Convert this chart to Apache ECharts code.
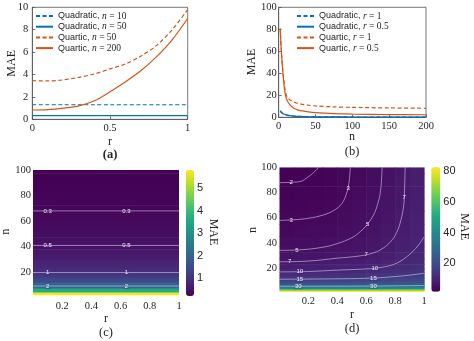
<!DOCTYPE html>
<html>
<head>
<meta charset="utf-8">
<script src="https://cdn.jsdelivr.net/npm/echarts@6/dist/echarts.min.js"></script>
<style>
  html, body { margin: 0; padding: 0; background: #fff; }
  #chart { width: 474px; height: 341px; }
</style>
</head>
<body>
<div id="chart"></div>
<script>
// ---------- (a) MAE versus r ----------
const rA = [0, 0.1, 0.2, 0.3, 0.4, 0.5, 0.6, 0.7, 0.8, 0.9, 1];
const quadN10 = [1.3, 1.3, 1.3, 1.3, 1.3, 1.3, 1.3, 1.3, 1.3, 1.3, 1.3];
const quadN50 = [0.33, 0.33, 0.33, 0.33, 0.33, 0.33, 0.33, 0.33, 0.33, 0.33, 0.33];
const quartN50 = [3.45, 3.43, 3.52, 3.75, 4.05, 4.5, 4.95, 5.65, 6.6, 8.0, 9.8];
const quartN200 = [0.83, 0.87, 1.0, 1.2, 1.65, 2.45, 3.35, 4.35, 5.6, 7.1, 9.0];

// ---------- (b) MAE versus n ----------
const nB = [2, 4, 6, 8, 10, 12, 15, 20, 25, 30, 40, 50, 75, 100, 150, 200];
const quadR1 = [6, 4.5, 3.5, 2.8, 2.3, 2.0, 1.6, 1.2, 1.0, 0.8, 0.6, 0.5, 0.35, 0.3, 0.25, 0.2];
const quadR05 = [5.5, 4.2, 3.2, 2.6, 2.1, 1.8, 1.5, 1.1, 0.9, 0.75, 0.55, 0.45, 0.33, 0.28, 0.22, 0.2];
const quartR1 = [81, 57, 40, 28, 21, 18, 16, 14, 12.8, 12, 11, 10.3, 9.5, 9.0, 8.5, 8.2];
const quartR05 = [80, 55, 38, 25, 18, 14.5, 11.5, 8.5, 7, 6, 5, 4.3, 3.4, 2.9, 2.5, 2.3];

// ---------- (c) quadratic MAE over (r, n): depends on n only ----------
const nC = [3, 6.5, 9, 10, 11, 12, 13, 14, 15, 16, 17, 18, 20, 22, 25, 28, 32, 36, 40, 45, 50, 55, 60, 65, 70, 75, 80, 85, 90, 95, 100];
const maeC = [5.7, 3.6, 2.2, 2.0, 1.8, 1.65, 1.52, 1.42, 1.33, 1.25, 1.17, 1.1, 1.0, 0.91, 0.8, 0.72, 0.63, 0.56, 0.5, 0.45, 0.41, 0.37, 0.34, 0.31, 0.29, 0.27, 0.25, 0.24, 0.23, 0.22, 0.21];
const levelsC = [0.3, 0.5, 1, 2];
const levelNC = [68, 41, 19.8, 9.3];
const tagRC = [0.1, 0.64];
const rangeC = [0.2, 5.8];

// ---------- (d) quartic MAE over (r, n) ----------
const rD = [0.05, 0.15, 0.25, 0.35, 0.45, 0.55, 0.65, 0.75, 0.85, 0.95];
const nD = [2, 3, 4.5, 6, 7.5, 9, 11, 13, 15, 18, 21, 25, 30, 35, 40, 50, 60, 70, 80, 90, 100];
const maeD = [
  [82.0, 82.0, 82.1, 82.1, 82.3, 82.4, 82.6, 82.9, 83.1, 83.5],
  [58.3, 58.3, 58.4, 58.4, 58.6, 58.7, 58.9, 59.2, 59.4, 59.8],
  [38.9, 38.9, 39.0, 39.1, 39.2, 39.4, 39.6, 39.8, 40.2, 40.5],
  [29.2, 29.2, 29.3, 29.4, 29.6, 29.8, 30.0, 30.3, 30.7, 31.2],
  [23.3, 23.3, 23.4, 23.5, 23.7, 23.9, 24.2, 24.6, 25.0, 25.5],
  [19.4, 19.4, 19.5, 19.7, 19.9, 20.1, 20.5, 20.9, 21.4, 22.0],
  [15.9, 15.9, 16.0, 16.2, 16.4, 16.7, 17.0, 17.5, 18.1, 18.7],
  [13.5, 13.5, 13.6, 13.8, 14.0, 14.3, 14.7, 15.2, 15.8, 16.4],
  [11.7, 11.7, 11.8, 12.0, 12.3, 12.6, 13.1, 13.6, 14.3, 15.0],
  [9.7, 9.7, 9.9, 10.0, 10.3, 10.7, 11.1, 11.7, 12.4, 13.2],
  [8.3, 8.4, 8.5, 8.7, 9.0, 9.3, 9.8, 10.4, 11.2, 12.0],
  [7.0, 7.1, 7.2, 7.4, 7.7, 8.1, 8.7, 9.3, 10.1, 11.0],
  [5.8, 5.9, 6.0, 6.2, 6.6, 7.0, 7.6, 8.4, 9.2, 10.2],
  [5.0, 5.1, 5.2, 5.5, 5.8, 6.3, 7.0, 7.8, 8.7, 9.7],
  [4.4, 4.5, 4.6, 4.9, 5.3, 5.8, 6.5, 7.4, 8.4, 9.5],
  [3.5, 3.6, 3.8, 4.1, 4.5, 5.1, 5.8, 6.8, 7.9, 9.1],
  [2.9, 3.0, 3.2, 3.5, 3.9, 4.5, 5.3, 6.3, 7.5, 8.7],
  [2.5, 2.6, 2.8, 3.1, 3.6, 4.2, 5.0, 6.0, 7.2, 8.5],
  [2.2, 2.3, 2.5, 2.8, 3.3, 3.9, 4.7, 5.7, 6.9, 8.3],
  [1.9, 2.0, 2.2, 2.5, 3.0, 3.6, 4.4, 5.5, 6.7, 8.0],
  [1.8, 1.8, 2.0, 2.4, 2.9, 3.5, 4.3, 5.4, 6.6, 8.0]
];
const rangeD = [1.6, 82.4];
// contour paths as [r, n] pairs
const contoursD = {
  2: [[0, 87.8], [0.14, 88.6], [0.2, 92.5], [0.25, 97.3], [0.27, 100]],
  3: [[0, 57.8], [0.1, 58.3], [0.2, 59.5], [0.3, 62], [0.38, 66], [0.43, 71], [0.46, 78], [0.48, 87], [0.49, 100]],
  5: [[0, 34], [0.15, 34.5], [0.3, 36.5], [0.4, 39.4], [0.5, 44], [0.56, 49], [0.61, 55], [0.65, 62], [0.68, 71], [0.7, 82], [0.71, 100]],
  7: [[0, 24.9], [0.2, 25.5], [0.4, 27.8], [0.55, 29.5], [0.65, 32], [0.72, 36], [0.77, 41], [0.81, 48], [0.84, 58], [0.86, 70], [0.865, 82], [0.87, 100]],
  10: [[0, 16.9], [0.2, 17.2], [0.4, 18.3], [0.55, 19], [0.66, 19.8], [0.75, 21.5], [0.81, 23.8], [0.87, 28], [0.93, 34], [0.97, 39.5], [1, 44.7]],
  15: [[0, 11.1], [0.4, 11.4], [0.65, 12], [0.8, 13.2], [0.9, 14.3], [1, 15.8]],
  30: [[0, 5.5], [0.5, 5.6], [0.8, 5.8], [1, 6.1]]
};
// contour label anchors [r, n, level]
const tagsD = [
  [0.08, 87.9, 2],
  [0.08, 58.1, 3], [0.475, 83, 3],
  [0.12, 34.3, 5], [0.61, 55, 5],
  [0.07, 25, 7], [0.6, 30.5, 7], [0.862, 76, 7],
  [0.14, 17, 10], [0.66, 19.8, 10],
  [0.14, 11.1, 15], [0.65, 12, 15],
  [0.13, 5.5, 30], [0.65, 5.7, 30]
];

// ---------- helpers ----------
const viridis = ['#440154', '#482475', '#414487', '#355f8d', '#2a788e', '#21918c',
                 '#22a884', '#44bf70', '#7ad151', '#bddf26', '#fde725'];
function hexRgb(h) { return [1, 3, 5].map(i => parseInt(h.slice(i, i + 2), 16)); }
function viridisAt(t) {
  t = Math.max(0, Math.min(1, t)) * (viridis.length - 1);
  const i = Math.min(Math.floor(t), viridis.length - 2), f = t - i;
  const a = hexRgb(viridis[i]), b = hexRgb(viridis[i + 1]);
  return 'rgb(' + a.map((v, k) => Math.round(v + (b[k] - v) * f)).join(',') + ')';
}
function spans(arr, lo, hi) {
  return arr.map((v, i) => [i === 0 ? lo : (arr[i - 1] + v) / 2,
                            i === arr.length - 1 ? hi : (v + arr[i + 1]) / 2]);
}
function cells(rs, rLo, rHi, ns, nLo, nHi, valueAt) {
  const rs2 = spans(rs, rLo, rHi), ns2 = spans(ns, nLo, nHi), out = [];
  ns2.forEach((ny, j) => rs2.forEach((rx, i) => out.push([rx[0], rx[1], ny[0], ny[1], valueAt(j, i)])));
  return out;
}
function renderCell(params, api) {
  const p0 = api.coord([api.value(0), api.value(2)]);
  const p1 = api.coord([api.value(1), api.value(3)]);
  return {
    type: 'rect',
    shape: { x: Math.min(p0[0], p1[0]), y: Math.min(p0[1], p1[1]),
             width: Math.abs(p1[0] - p0[0]) + 0.6, height: Math.abs(p1[1] - p0[1]) + 0.6 },
    style: { fill: api.visual('color') }
  };
}
function tagRenderer(range) {
  return function (params, api) {
    const p = api.coord([api.value(0), api.value(1)]);
    const lvl = api.value(2);
    return {
      type: 'text', x: p[0], y: p[1], z2: 10,
      style: {
        text: String(lvl), fill: '#efe8f7', font: '6px "Liberation Sans"',
        align: 'center', verticalAlign: 'middle',
        backgroundColor: viridisAt((lvl - range[0]) / (range[1] - range[0])),
        padding: [0, 1]
      }
    };
  };
}

const ink = '#262626';
const serif = '"Liberation Serif", "DejaVu Serif", serif';
const sans = '"Liberation Sans", Arial, sans-serif';
const blue = '#0072BD', orange = '#D95319';
const dash = [4, 2.5];
const tickLbl = (m) => ({ color: ink, fontFamily: serif, fontSize: 10.5, margin: m });
const boxAxis = {
  axisLine: { show: true, lineStyle: { color: '#555', width: 0.8 } },
  axisTick: { show: true, inside: true, length: 3, lineStyle: { color: '#555', width: 0.8 } },
  splitLine: { show: false }
};
const plainAxis = { axisLine: { show: false }, axisTick: { show: false }, splitLine: { show: false } };

function legendFmt(name) {
  const [head, tail] = name.split(', ');
  const [sym, rest] = [tail[0], tail.slice(1)];
  return '{t|' + head + ', }{i|' + sym + '}{s|' + rest + '}';
}
const legendRich = {
  t: { fontFamily: sans, fontSize: 9, color: ink, lineHeight: 10 },
  i: { fontFamily: serif, fontStyle: 'italic', fontSize: 9.5, color: ink, lineHeight: 10 },
  s: { fontFamily: serif, fontSize: 9.5, color: ink, lineHeight: 10 }
};
function legendAt(left, names) {
  return {
    data: names, left: left, top: 11, orient: 'vertical', padding: 0,
    itemWidth: 17, itemHeight: 8, itemGap: 0.7,
    itemStyle: { color: 'transparent', borderWidth: 0, opacity: 0 },
    formatter: legendFmt, textStyle: { rich: legendRich, lineHeight: 10 },
    selectedMode: false
  };
}

const pair = (xs, ys) => xs.map((x, i) => [x, ys[i]]);
const lineSeries = (name, xi, xs, ys, color, dashed) => ({
  name, type: 'line', xAxisIndex: xi, yAxisIndex: xi, data: pair(xs, ys),
  symbol: 'none', smooth: 0.3, clip: true,
  lineStyle: { color, width: 1.2, type: dashed ? dash : 'solid' }, itemStyle: { color }
});
const contourStyle = { color: 'rgba(235,220,255,0.6)', width: 0.9 };

const heatC = cells([0.5], 0, 1, nC, 2, 100, (j) => maeC[j]);
const heatD = cells(rD, 0, 1, nD, 1, 100, (j, i) => maeD[j][i]);

const series = [
  lineSeries('Quadratic, n = 10', 0, rA, quadN10, blue, true),
  lineSeries('Quadratic, n = 50', 0, rA, quadN50, blue, false),
  lineSeries('Quartic, n = 50', 0, rA, quartN50, orange, true),
  lineSeries('Quartic, n = 200', 0, rA, quartN200, orange, false),
  lineSeries('Quadratic, r = 1', 1, nB, quadR1, blue, true),
  lineSeries('Quadratic, r = 0.5', 1, nB, quadR05, blue, false),
  lineSeries('Quartic, r = 1', 1, nB, quartR1, orange, true),
  lineSeries('Quartic, r = 0.5', 1, nB, quartR05, orange, false),
  { type: 'custom', xAxisIndex: 2, yAxisIndex: 2, data: heatC, renderItem: renderCell,
    encode: { x: [0, 1], y: [2, 3] }, clip: true, silent: true },
  { type: 'custom', xAxisIndex: 3, yAxisIndex: 3, data: heatD, renderItem: renderCell,
    encode: { x: [0, 1], y: [2, 3] }, clip: true, silent: true }
];
levelsC.forEach((lvl, k) => series.push({
  type: 'line', xAxisIndex: 2, yAxisIndex: 2, symbol: 'none', silent: true,
  data: [[0, levelNC[k]], [1, levelNC[k]]], lineStyle: contourStyle
}));
Object.keys(contoursD).forEach(k => series.push({
  type: 'line', xAxisIndex: 3, yAxisIndex: 3, symbol: 'none', smooth: 0.4, silent: true, clip: true,
  data: contoursD[k], lineStyle: contourStyle
}));
series.push({
  type: 'custom', xAxisIndex: 2, yAxisIndex: 2, silent: true,
  data: levelsC.flatMap((lvl, k) => tagRC.map(r => [r, levelNC[k], lvl])),
  renderItem: tagRenderer(rangeC)
});
series.push({
  type: 'custom', xAxisIndex: 3, yAxisIndex: 3, silent: true,
  data: tagsD, renderItem: tagRenderer(rangeD)
});

const grids = [
  { left: 32.3, top: 7.3, width: 155.4, height: 112, show: true, borderColor: '#555', borderWidth: 0.8 },
  { left: 278.7, top: 7.3, width: 147.3, height: 110, show: true, borderColor: '#555', borderWidth: 0.8 },
  { left: 33, top: 170, width: 146, height: 125.3 },
  { left: 279.5, top: 167.3, width: 144.5, height: 124.6 },
  { left: 186, top: 170, width: 8, height: 126 },
  { left: 431.3, top: 167.3, width: 9, height: 124.4 }
].map(g => Object.assign({ containLabel: false, outerBoundsMode: 'none' }, g));

const xAxes = [
  Object.assign({ type: 'value', gridIndex: 0, min: 0, max: 1, interval: 0.5, axisLabel: tickLbl(3) }, boxAxis),
  Object.assign({ type: 'value', gridIndex: 1, min: 0, max: 200, interval: 50, axisLabel: tickLbl(3) }, boxAxis),
  Object.assign({ type: 'value', gridIndex: 2, min: 0, max: 1,
    axisLabel: Object.assign(tickLbl(5), { customValues: [0.2, 0.4, 0.6, 0.8, 1] }) }, plainAxis),
  Object.assign({ type: 'value', gridIndex: 3, min: 0, max: 1,
    axisLabel: Object.assign(tickLbl(4), { customValues: [0.2, 0.4, 0.6, 0.8, 1] }) }, plainAxis),
  { type: 'value', gridIndex: 4, show: false, min: 0, max: 1 },
  { type: 'value', gridIndex: 5, show: false, min: 0, max: 1 }
];
const cbLbl = { color: ink, fontFamily: sans, fontSize: 11, margin: 3 };
const yAxes = [
  Object.assign({ type: 'value', gridIndex: 0, min: 0, max: 10, interval: 2, axisLabel: tickLbl(4) }, boxAxis),
  Object.assign({ type: 'value', gridIndex: 1, min: 0, max: 100, interval: 20, axisLabel: tickLbl(2) }, boxAxis),
  Object.assign({ type: 'value', gridIndex: 2, min: 2, max: 100,
    axisLabel: Object.assign(tickLbl(2), { customValues: [20, 40, 60, 80, 100] }) }, plainAxis),
  Object.assign({ type: 'value', gridIndex: 3, min: 1, max: 100,
    axisLabel: Object.assign(tickLbl(2.5), { customValues: [20, 40, 60, 80, 100] }) }, plainAxis),
  Object.assign({ type: 'value', gridIndex: 4, position: 'right', min: rangeC[0], max: rangeC[1],
    axisLabel: Object.assign({}, cbLbl, { customValues: [1, 2, 3, 4, 5] }) }, plainAxis),
  Object.assign({ type: 'value', gridIndex: 5, position: 'right', min: rangeD[0], max: rangeD[1],
    axisLabel: Object.assign({}, cbLbl, { customValues: [20, 40, 60, 80] }) }, plainAxis)
];

const visualMaps = [
  { type: 'continuous', seriesIndex: 8, dimension: 4, min: rangeC[0], max: rangeC[1],
    left: 186, top: 170, itemWidth: 8, itemHeight: 126, padding: 0, calculable: false,
    hoverLink: false, text: null, inRange: { color: viridis }, textStyle: { fontSize: 0 } },
  { type: 'continuous', seriesIndex: 9, dimension: 4, min: rangeD[0], max: rangeD[1],
    left: 431.3, top: 167.3, itemWidth: 9, itemHeight: 124.4, padding: 0, calculable: false,
    hoverLink: false, text: null, inRange: { color: viridis }, textStyle: { fontSize: 0 } }
];

function label(text, x, y, opts) {
  opts = opts || {};
  return {
    type: 'text', x, y, rotation: opts.rot || 0, silent: true,
    style: {
      text, fill: ink, align: 'center', verticalAlign: 'middle',
      font: (opts.weight || 'normal') + ' ' + (opts.size || 12) + 'px ' + serif
    }
  };
}
const graphics = [
  label('MAE', 11.7, 63.3, { rot: Math.PI / 2 }),
  label('r', 110, 141.7),
  label('(a)', 110, 154.3, { size: 12.5, weight: 'bold' }),
  label('MAE', 252, 62, { rot: Math.PI / 2 }),
  label('n', 352, 136.7),
  label('(b)', 352, 151.7, { size: 12.5 }),
  label('n', 6, 231.7, { rot: Math.PI / 2 }),
  label('r', 106, 319.3),
  label('(c)', 106, 332.7, { size: 12.5 }),
  label('MAE', 213, 232, { rot: -Math.PI / 2 }),
  label('n', 253, 230, { rot: Math.PI / 2 }),
  label('r', 352, 315),
  label('(d)', 352, 328.3, { size: 12.5 }),
  label('MAE', 463.7, 226.7, { rot: -Math.PI / 2 })
];

const chart = echarts.init(document.getElementById('chart'), null, { renderer: 'canvas' });
chart.setOption({
  animation: false,
  backgroundColor: '#fff',
  grid: grids,
  xAxis: xAxes,
  yAxis: yAxes,
  visualMap: visualMaps,
  legend: [
    legendAt(35, ['Quadratic, n = 10', 'Quadratic, n = 50', 'Quartic, n = 50', 'Quartic, n = 200']),
    legendAt(296, ['Quadratic, r = 1', 'Quadratic, r = 0.5', 'Quartic, r = 1', 'Quartic, r = 0.5'])
  ],
  graphic: graphics,
  series: series
});
</script>
</body>
</html>
